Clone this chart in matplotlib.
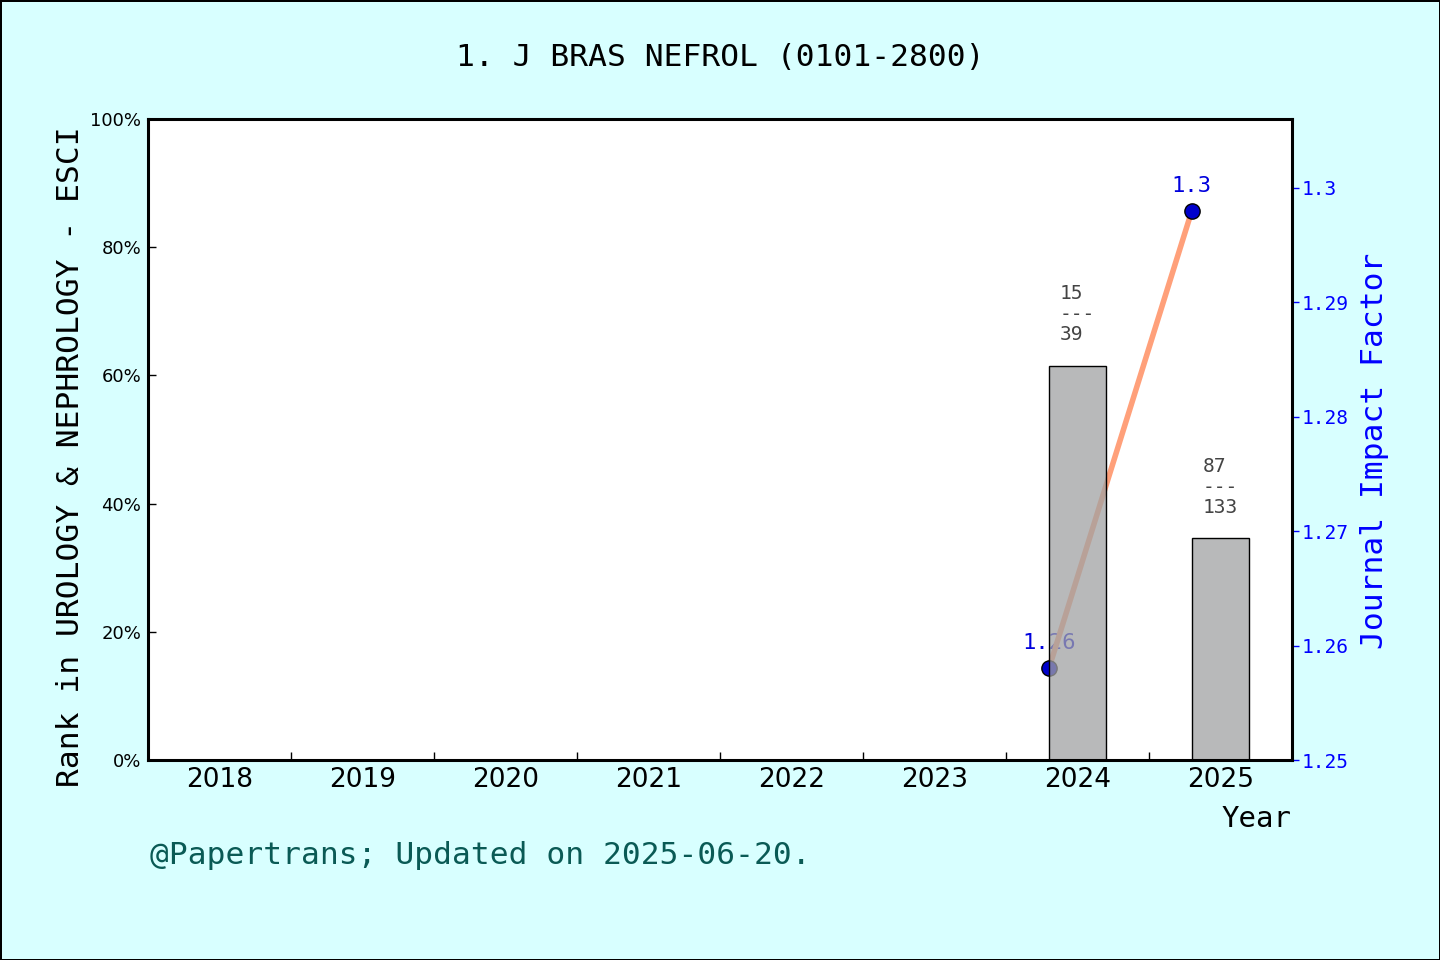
import numpy as np
import matplotlib
matplotlib.use("Agg")
import matplotlib.pyplot as plt
from matplotlib.ticker import FixedLocator

years = ["2018", "2019", "2020", "2021", "2022", "2023", "2024", "2025"]
rank = [None, None, None, None, None, None, 15, 87]
total = [None, None, None, None, None, None, 39, 133]
impact = [None, None, None, None, None, None, 1.258, 1.298]

title = "1. J BRAS NEFROL (0101-2800)"
left_label = "Rank in UROLOGY & NEPHROLOGY - ESCI"
right_label = "Journal Impact Factor"
note = "@Papertrans; Updated on 2025-06-20."

mono = ["DejaVu Sans Mono"]
sans = ["DejaVu Sans"]
bg = "#d8ffff"

fig = plt.figure(figsize=(14.4, 9.6), dpi=100)
fig.patch.set_facecolor(bg)
fig.patch.set_edgecolor("black")
fig.patch.set_linewidth(2)

ax = fig.add_axes([0.1028, 0.2083, 0.7944, 0.6677])
ax2 = ax.twinx()
# bars go on top of the IF line, so the rank axes sits above the twin
ax.set_zorder(ax2.get_zorder() + 1)
ax.patch.set_visible(False)
ax2.patch.set_visible(True)
ax2.patch.set_facecolor("white")

x = np.arange(len(years))

bx, bh, bl = [], [], []
for i in range(len(years)):
    if rank[i] is not None:
        bx.append(x[i])
        bh.append(1 - rank[i] / total[i])
        bl.append("%d\n---\n%d" % (rank[i], total[i]))
ax.bar(bx, bh, width=0.4, facecolor=(0.63, 0.635, 0.64, 0.75),
       edgecolor="black", linewidth=1)
for xi, h, lab in zip(bx, bh, bl):
    ax.text(xi, h + 0.033, lab, ha="center", va="bottom", multialignment="left",
            fontsize=14, color="#444444", family=mono, linespacing=1.1)

ax.set_xlim(-0.5, len(years) - 0.5)
ax.set_ylim(0, 1)
ax.set_xticks(x)
ax.set_xticklabels(years, family=sans, fontsize=19)
ax.xaxis.set_minor_locator(FixedLocator(x[:-1] + 0.5))
ax.tick_params(axis="x", which="major", length=0, pad=5)
ax.tick_params(axis="x", which="minor", direction="in", length=6, width=1)
ax.set_yticks([0, 0.2, 0.4, 0.6, 0.8, 1.0])
ax.set_yticklabels(["0%", "20%", "40%", "60%", "80%", "100%"], family=sans, fontsize=13)
ax.tick_params(axis="y", direction="in", length=6, width=1, pad=5)
for s in ax.spines.values():
    s.set_linewidth(2.2)
ax.set_ylabel(left_label, family=mono, fontsize=22.5, labelpad=4)
ax.yaxis.label.set_y(0.473)
ax.set_xlabel("Year", family=mono, fontsize=21, loc="right", labelpad=9)

# impact factor line, shifted to the left edge of each bar
lx = [x[i] - 0.2 for i in range(len(years)) if impact[i] is not None]
ly = [impact[i] for i in range(len(years)) if impact[i] is not None]
ax2.plot(lx, ly, color="#ffa07a", linewidth=4, zorder=2)
ax2.plot(lx, ly, linestyle="none", marker="o", markersize=11,
         markerfacecolor="#0000cc", markeredgecolor="black", markeredgewidth=1, zorder=3)
for a, b in zip(lx, ly):
    ax2.annotate("%g" % round(b, 2), (a, b), xytext=(0, 18), textcoords="offset points",
                 ha="center", va="center", fontsize=16, color="#0000dd", family=mono, zorder=1)
ax2.set_ylim(1.25, 1.306)
ax2.set_yticks([1.25, 1.26, 1.27, 1.28, 1.29, 1.30])
ax2.set_yticklabels(["1.25", "1.26", "1.27", "1.28", "1.29", "1.3"], family=mono,
                    fontsize=14, color="blue")
ax2.tick_params(axis="y", direction="out", length=5, width=1, color="blue", pad=2)
for s in ax2.spines.values():
    s.set_visible(False)
ax2.set_ylabel(right_label, family=mono, fontsize=22.5, color="blue", labelpad=8)
ax2.yaxis.label.set_y(0.482)

fig.text(0.5, 0.94, title, ha="center", va="center", family=mono, fontsize=22.5)
fig.text(0.104, 0.109, note, ha="left", va="center", family=mono, fontsize=22.5, color="#0a5a55")

fig.savefig("out.png", dpi=100, facecolor=fig.get_facecolor(), edgecolor="black")
